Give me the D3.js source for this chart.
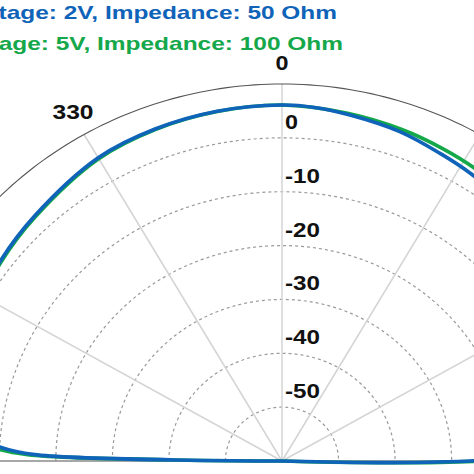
<!DOCTYPE html>
<html>
<head>
<meta charset="utf-8">
<script src="https://cdn.jsdelivr.net/npm/d3@7"></script>
<style>
  html, body { margin: 0; padding: 0; background: #fff; }
  svg { display: block; }
  text { font-family: "Liberation Sans", Arial, sans-serif; font-weight: bold; }
</style>
</head>
<body>
<svg id="chart" width="474" height="474"></svg>
<script>
// ---- data ----
const seriesNames = ["Voltage: 2V, Impedance: 50 Ohm", "Voltage: 5V, Impedance: 100 Ohm"];
const blueAngles = [-90, -88.5, -87, -85, -80, -70, -60, -53.5, -44, -30, -20, -10, 0, 5, 10.6, 18.8, 26, 32, 40, 50, 60, 70, 80, 85, 89, 90];
const blueValues = [-60, -16.7, -10, -6, -3, -0.5, 1.2, 2.1, 3.1, 5.0, 5.6, 5.95, 6.1, 5.9, 5.35, 4.6, 3.6, 2.95, 2.0, 0.5, -1.5, -4, -8, -11, -20, -60];
const greenAngles = [-90, -88.5, -87, -85, -80, -70, -60, -53.5, -44, -30, -20, -10, 0, 10, 19, 26, 32, 40, 50, 60, 70, 80, 85, 89, 90];
const greenValues = [-60, -15, -8.5, -6, -3.2, -0.7, 1.0, 1.9, 2.9, 4.8, 5.5, 5.9, 6.1, 5.6, 5.1, 4.6, 4.15, 3.3, 1.8, 0, -2.5, -6, -9, -18, -60];
const ringTicks = [-50, -40, -30, -20, -10, 0];
const ringLabels = ["-50", "-40", "-30", "-20", "-10", "0"];
const rMin = -60, rMax = 10;
const spokeAngles = [-90, -60, -30, 0, 30, 60, 90];
const angleLabelTicks = [-30, 0];
const angleLabels = ["330", "0"];

// ---- layout ----
const cx = 282, cy = 461, R = 377, sx = 1.05;
const blue = "#0f63b8", green = "#14a84a";

const svg = d3.select("#chart");
const r = d3.scaleLinear().domain([rMin, rMax]).range([0, R]).clamp(true);
const rad = d => d * Math.PI / 180;

const g = svg.append("g").attr("transform", `translate(${cx},${cy}) scale(${sx},1)`);

const halfAngles = d3.range(-90, 90.5, 1);
const arcLine = d3.lineRadial().angle(a => rad(a));

// dashed rings
ringTicks.forEach(v => {
  g.append("path")
    .attr("d", arcLine.radius(() => r(v))(halfAngles))
    .attr("fill", "none")
    .attr("stroke", "#9a9a9a")
    .attr("stroke-width", 1.2)
    .attr("stroke-dasharray", "3,3")
    .attr("vector-effect", "non-scaling-stroke");
});

// spokes
spokeAngles.forEach(a => {
  g.append("line")
    .attr("x1", 0).attr("y1", 0)
    .attr("x2", r(rMax) * Math.sin(rad(a)))
    .attr("y2", -r(rMax) * Math.cos(rad(a)))
    .attr("stroke", Math.abs(a) === 90 ? "#8a8a8a" : "#d4d4d4")
    .attr("stroke-width", 1.5)
    .attr("vector-effect", "non-scaling-stroke");
});

// outer ring
g.append("path")
  .attr("d", arcLine.radius(() => r(rMax))(halfAngles))
  .attr("fill", "none")
  .attr("stroke", "#555")
  .attr("stroke-width", 1.1)
  .attr("vector-effect", "non-scaling-stroke");

// data lines
const dataLine = d3.lineRadial()
  .angle(d => rad(d[0]))
  .radius(d => r(d[1]))
  .curve(d3.curveCatmullRom.alpha(0.5));

const greenData = greenAngles.map((a, i) => [a, greenValues[i]]);
const blueData = blueAngles.map((a, i) => [a, blueValues[i]]);

g.append("path").attr("d", dataLine(greenData))
  .attr("fill", "none").attr("stroke", green).attr("stroke-width", 3.6)
  .attr("stroke-linejoin", "round").attr("vector-effect", "non-scaling-stroke");
g.append("path").attr("d", dataLine(blueData))
  .attr("fill", "none").attr("stroke", blue).attr("stroke-width", 3.6)
  .attr("stroke-linejoin", "round").attr("vector-effect", "non-scaling-stroke");

// ring labels
ringTicks.forEach((v, i) => {
  const t = ringLabels[i];
  svg.append("text")
    .attr("x", cx + 3)
    .attr("y", cy - r(v) - 9)
    .attr("font-size", 19.5)
    .attr("fill", "#111")
    .attr("textLength", t.length === 1 ? 13 : 35)
    .attr("lengthAdjust", "spacingAndGlyphs")
    .text(t);
});

// angle labels
const labR = R + 21;
angleLabelTicks.forEach((a, i) => {
  const t = angleLabels[i];
  svg.append("text")
    .attr("x", cx + sx * labR * Math.sin(rad(a)))
    .attr("y", cy - labR * Math.cos(rad(a)) - (a === 0 ? 0 : 4))
    .attr("text-anchor", "middle")
    .attr("dominant-baseline", "central")
    .attr("font-size", 19.5)
    .attr("fill", "#111")
    .attr("textLength", t.length === 1 ? 13 : 41)
    .attr("lengthAdjust", "spacingAndGlyphs")
    .text(t);
});

// legend
const legendInfo = [
  { name: seriesNames[0], color: blue, x: -37.6, y: 18.5, len: 374.6 },
  { name: seriesNames[1], color: green, x: -45.7, y: 49.5, len: 388.7 }
];
legendInfo.forEach(d => {
  svg.append("text")
    .attr("x", d.x).attr("y", d.y)
    .attr("font-size", 19)
    .attr("fill", d.color)
    .attr("textLength", d.len)
    .attr("lengthAdjust", "spacingAndGlyphs")
    .text(d.name);
});
</script>
</body>
</html>
